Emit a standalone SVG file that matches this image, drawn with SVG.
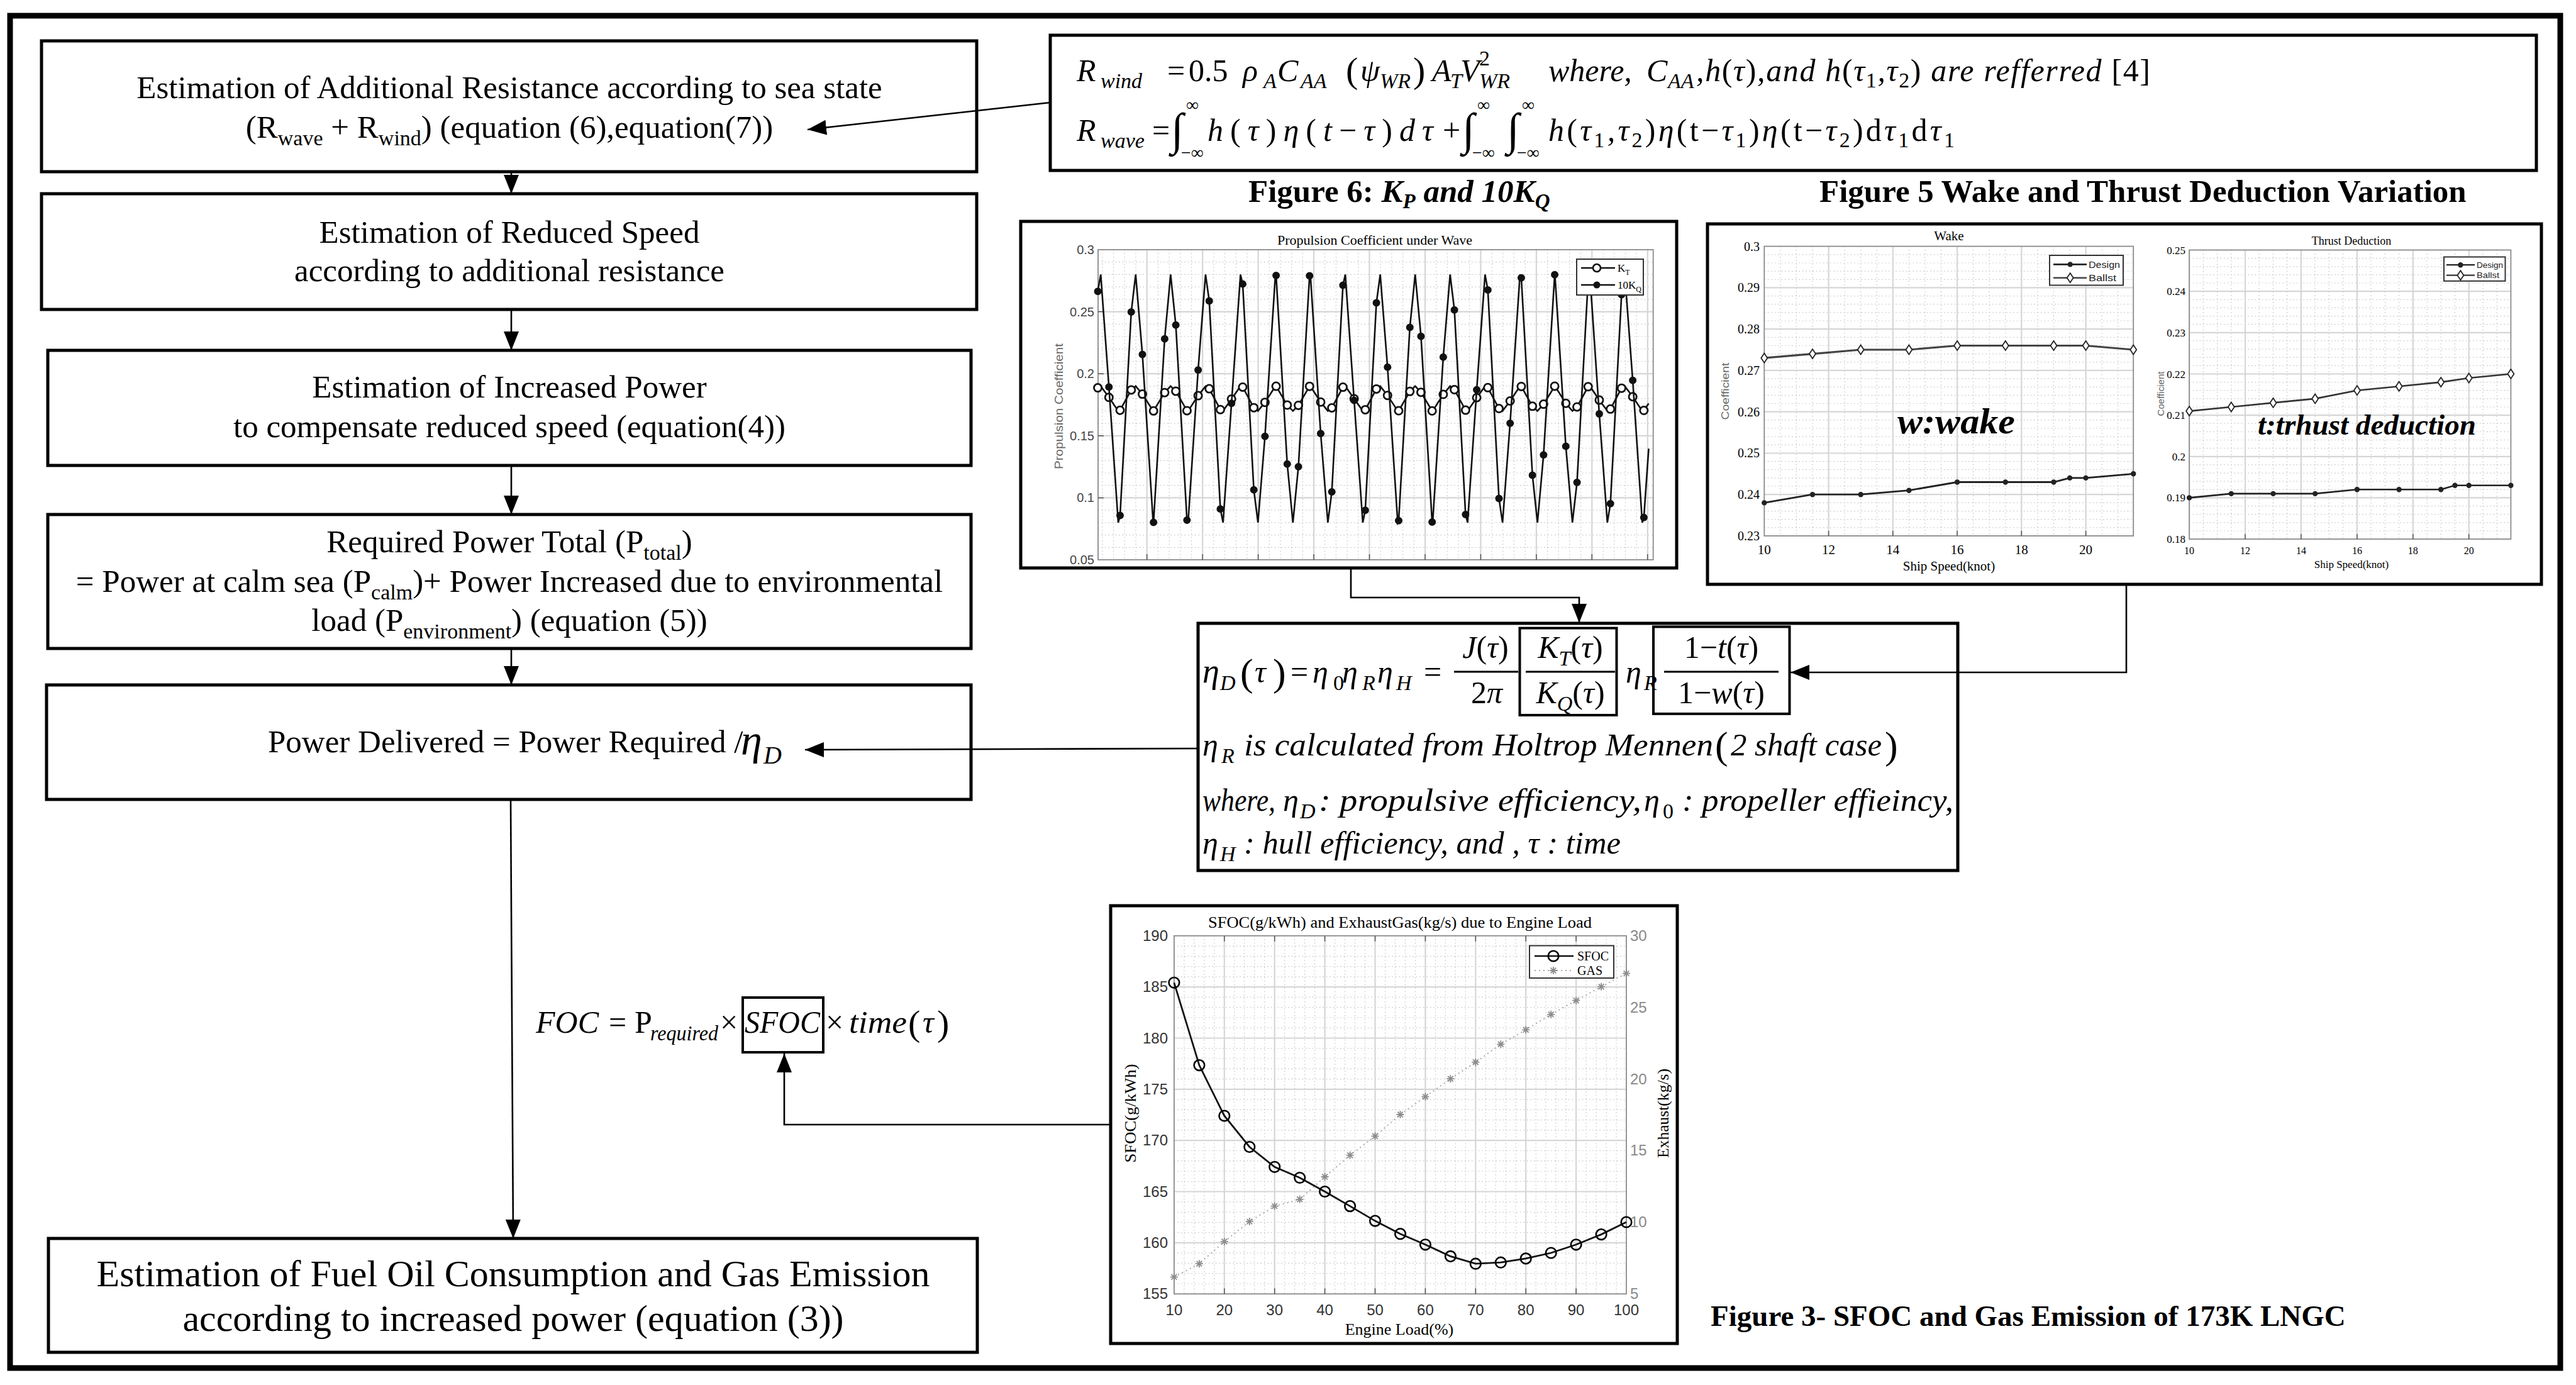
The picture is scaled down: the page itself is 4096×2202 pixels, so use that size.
<svg xmlns="http://www.w3.org/2000/svg" width="4096" height="2202" viewBox="0 0 4096 2202">
<defs>
<style>
.s{font-family:"Liberation Serif","Times New Roman",serif;fill:#000}
.a{font-family:"Liberation Sans",Arial,sans-serif}
.i{font-style:italic}
.n{font-style:normal}
.b{font-weight:bold}
.bt{font-size:51px}
.sub{font-size:34px}
.box{fill:#fff;stroke:#000;stroke-width:5}
.ib{fill:none;stroke:#000;stroke-width:4}
.con{fill:none;stroke:#000;stroke-width:2.6}
.arr{marker-end:url(#ah)}
.g1{fill:none;stroke:#d6d6d6;stroke-width:2.2}
.g2{fill:none;stroke:#c2c2c2;stroke-width:1.2;stroke-dasharray:1.5 4}
.pa{fill:none;stroke:#8a8a8a;stroke-width:1.8}
.tk{fill:none;stroke:#555;stroke-width:1.5}
.m{font-size:50px}
.ms{font-size:34px}
</style>
<marker id="ah" markerUnits="userSpaceOnUse" viewBox="0 0 30 24" markerWidth="30" markerHeight="24" refX="30" refY="12" orient="auto"><path d="M0,0L30,12L0,24z" fill="#000"/></marker>
<marker id="mo" markerUnits="userSpaceOnUse" viewBox="-11 -11 22 22" markerWidth="22" markerHeight="22" refX="0" refY="0"><circle r="8.3" fill="none" stroke="#000" stroke-width="2.6"/></marker>
<marker id="mast" markerUnits="userSpaceOnUse" viewBox="-9 -9 18 18" markerWidth="18" markerHeight="18" refX="0" refY="0"><path d="M-6,0H6M0,-6V6M-4.3,-4.3L4.3,4.3M-4.3,4.3L4.3,-4.3" stroke="#8c8c8c" stroke-width="1.8"/></marker>
<marker id="mdot" markerUnits="userSpaceOnUse" viewBox="-6 -6 12 12" markerWidth="12" markerHeight="12" refX="0" refY="0"><circle r="4.2" fill="#222"/></marker>
<marker id="mdia" markerUnits="userSpaceOnUse" viewBox="-8 -9 16 18" markerWidth="16" markerHeight="18" refX="0" refY="0"><path d="M0,-7.5L5,0L0,7.5L-5,0Z" fill="#fff" stroke="#222" stroke-width="1.8"/></marker>
<path id="kqline" vector-effect="non-scaling-stroke" fill="none" d="M213 266.4L219.5 280L237.7 189.3L258.3 80L262.4 85.7L287.2 249.8L297 280L311.9 215.6L335.8 80L336.6 80.2L361.3 228.1L374.5 280L386 239.3L410.8 82L413.3 80L435.5 203L452 280L460.2 258.7L484.9 91L490.8 80L509.6 176.1L529.5 280L534.4 272.3L559.1 106.4L568.3 80L583.8 149.5L607 280L608.5 279.2L633.2 127.2L645.8 80L658 125.1L682.7 278.9L684.5 280L707.4 151.8L723.3 80L732.1 104.8L756.8 271.4L762 280L781.6 178.5L800.8 80L806.3 89.9L831 257.2L839.5 280L855.7 205.3L878.3 80L880.4 81.6L905.2 237.4L917 280L929.9 230.2L954.6 80.4L955.8 80L979.3 213.4L994.5 280L1004 251.5L1028.8 86.5L1033.3 80L1053.5 187L1072 280L1078.2 267.6L1102.9 99.5L1110.8 80L1127.6 160.1L1149.5 280L1152.4 277.3L1177.1 118.2L1188.3 80L1201.8 134.6L1226.5 279.9L1227 280L1251.2 141.5L1265.8 80L1276 112.4L1300.7 275.3L1304.5 280L1325.4 167.6L1343.3 80L1350.1 95.2L1374.8 263.7L1382 280L1399.6 194.6L1420.8 80L1424.3 84.1L1435 139.6"/>
<path id="kqpts" vector-effect="non-scaling-stroke" fill="none" stroke-linecap="round" d="M213 266.4h.01M237.7 189.3h.01M262.4 85.7h.01M287.2 249.8h.01M311.9 215.6h.01M336.6 80.2h.01M361.3 228.1h.01M386 239.3h.01M410.8 82h.01M435.5 203h.01M460.2 258.7h.01M484.9 91h.01M509.6 176.1h.01M534.4 272.3h.01M559.1 106.4h.01M583.8 149.5h.01M608.5 279.2h.01M633.2 127.2h.01M658 125.1h.01M682.7 278.9h.01M707.4 151.8h.01M732.1 104.8h.01M756.8 271.4h.01M781.6 178.5h.01M806.3 89.9h.01M831 257.2h.01M855.7 205.3h.01M880.4 81.6h.01M905.2 237.4h.01M929.9 230.2h.01M954.6 80.4h.01M979.3 213.4h.01M1004 251.5h.01M1028.8 86.5h.01M1053.5 187h.01M1078.2 267.6h.01M1102.9 99.5h.01M1127.6 160.1h.01M1152.4 277.3h.01M1177.1 118.2h.01M1201.8 134.6h.01M1226.5 279.9h.01M1251.2 141.5h.01M1276 112.4h.01M1300.7 275.3h.01M1325.4 167.6h.01M1350.1 95.2h.01M1374.8 263.7h.01M1399.6 194.6h.01M1424.3 84.1h.01"/>
</defs>
<rect x="0" y="0" width="4096" height="2202" fill="#fff"/>
<rect id="outer-frame" x="16" y="25" width="4055" height="2150" fill="none" stroke="#000" stroke-width="9"/>

<!-- Flowchart nodes -->
<g id="n1">
<rect class="box" x="66" y="65" width="1487" height="208"/>
<text class="s bt" x="810" y="156" text-anchor="middle">Estimation of Additional Resistance according to sea state</text>
<text class="s bt" x="810" y="219" text-anchor="middle">(R<tspan class="sub" dy="12">wave</tspan><tspan dy="-12"> + R</tspan><tspan class="sub" dy="12">wind</tspan><tspan dy="-12">) (equation (6),equation(7))</tspan></text>
</g>
<g id="n2">
<rect class="box" x="66" y="308" width="1487" height="184"/>
<text class="s bt" x="810" y="386" text-anchor="middle">Estimation of Reduced Speed</text>
<text class="s bt" x="810" y="447" text-anchor="middle">according to additional resistance</text>
</g>
<g id="n3">
<rect class="box" x="76" y="557" width="1468" height="183"/>
<text class="s bt" x="810" y="632" text-anchor="middle">Estimation of Increased Power</text>
<text class="s bt" x="810" y="695" text-anchor="middle">to compensate reduced speed (equation(4))</text>
</g>
<g id="n4">
<rect class="box" x="76" y="818" width="1468" height="213"/>
<text class="s bt" x="810" y="878" text-anchor="middle">Required Power Total (P<tspan class="sub" dy="12">total</tspan><tspan dy="-12">)</tspan></text>
<text class="s bt" x="810" y="941" text-anchor="middle">= Power at calm sea (P<tspan class="sub" dy="12">calm</tspan><tspan dy="-12">)+ Power Increased due to environmental</tspan></text>
<text class="s bt" x="810" y="1003" text-anchor="middle">load (P<tspan class="sub" dy="12">environment</tspan><tspan dy="-12">) (equation (5))</tspan></text>
</g>
<g id="n5">
<rect class="box" x="74" y="1089" width="1470" height="182"/>
<text class="s bt" x="426" y="1196">Power Delivered = Power Required /</text>
<text class="s i" x="1178" y="1200" font-size="68">η</text>
<text class="s i" x="1214" y="1214" font-size="40">D</text>
</g>
<g id="n6">
<rect class="box" x="77" y="1969" width="1477" height="181"/>
<text class="s" x="816" y="2045" font-size="60" text-anchor="middle">Estimation of Fuel Oil Consumption and Gas Emission</text>
<text class="s" x="816" y="2116" font-size="60" text-anchor="middle">according to increased power (equation (3))</text>
</g>

<!-- Wind / wave resistance equations -->
<g id="eq-resistance">
<rect class="box" x="1670" y="56" width="2363" height="215"/>
<g class="s i m">
<text x="1712" y="129">R</text>
<text class="ms" x="1750" y="140">wind</text>
<text class="n" x="1856" y="129">=</text>
<text class="n" x="1890" y="129">0.5</text>
<text x="1976" y="129">ρ</text>
<text class="ms" x="2009" y="140">A</text>
<text x="2031" y="129">C</text>
<text class="ms" x="2068" y="140">AA</text>
<text class="n" x="2140" y="131" font-size="58">(</text>
<text x="2163" y="129">ψ</text>
<text class="ms" x="2194" y="140">WR</text>
<text class="n" x="2247" y="131" font-size="58">)</text>
<text x="2277" y="129">A</text>
<text class="ms" x="2306" y="140">T</text>
<text x="2322" y="129">V</text>
<text class="ms n" x="2352" y="104">2</text>
<text class="ms" x="2352" y="140">WR</text>
<text x="2462" y="129">where,</text>
<text x="2618" y="129">C</text>
<text class="ms" x="2652" y="140">AA</text>
<text x="2697" y="129" textLength="722" lengthAdjust="spacing">,h<tspan class="n">(</tspan>τ<tspan class="n">)</tspan>,and h<tspan class="n">(</tspan>τ<tspan class="ms n" dy="10">1</tspan><tspan dy="-10">,τ</tspan><tspan class="ms n" dy="10">2</tspan><tspan class="n" dy="-10">)</tspan> are refferred <tspan class="n">[4]</tspan></text>

<text x="1712" y="224">R</text>
<text class="ms" x="1750" y="235">wave</text>
<text class="n" x="1832" y="224">=</text>
<text class="n" x="1862" y="230" font-size="72">∫</text>
<text class="n" x="1886" y="176" font-size="28">∞</text>
<text class="n" x="1878" y="252" font-size="28">−∞</text>
<text x="1920" y="224" textLength="359" lengthAdjust="spacing">h<tspan class="n">(</tspan>τ<tspan class="n">)</tspan>η<tspan class="n">(</tspan>t<tspan class="n">−</tspan>τ<tspan class="n">)</tspan>dτ</text>
<text class="n" x="2294" y="224">+</text>
<text class="n" x="2325" y="230" font-size="72">∫</text>
<text class="n" x="2349" y="176" font-size="28">∞</text>
<text class="n" x="2341" y="252" font-size="28">−∞</text>
<text class="n" x="2396" y="230" font-size="72">∫</text>
<text class="n" x="2420" y="176" font-size="28">∞</text>
<text class="n" x="2412" y="252" font-size="28">−∞</text>
<text x="2462" y="224" textLength="646" lengthAdjust="spacing">h<tspan class="n">(</tspan>τ<tspan class="ms n" dy="10">1</tspan><tspan dy="-10">,τ</tspan><tspan class="ms n" dy="10">2</tspan><tspan class="n" dy="-10">)</tspan>η<tspan class="n">(t−</tspan>τ<tspan class="ms n" dy="10">1</tspan><tspan class="n" dy="-10">)</tspan>η<tspan class="n">(t−</tspan>τ<tspan class="ms n" dy="10">2</tspan><tspan class="n" dy="-10">)d</tspan>τ<tspan class="ms n" dy="10">1</tspan><tspan class="n" dy="-10">d</tspan>τ<tspan class="ms n" dy="10">1</tspan></text>
</g>
</g>

<!-- Captions -->
<g id="captions" class="s b">
<text x="1985" y="321" font-size="51">Figure 6: <tspan class="i">K</tspan><tspan class="i" font-size="33" dy="10">P</tspan><tspan class="i" dy="-10"> and 10K</tspan><tspan class="i" font-size="33" dy="10">Q</tspan></text>
<text x="2893" y="321" font-size="51">Figure 5 Wake and Thrust Deduction Variation</text>
<text x="2720" y="2108" font-size="47">Figure 3- SFOC and Gas Emission of 173K LNGC</text>
</g>

<!-- Figure 6 chart -->
<g id="fig6">
<rect x="1623" y="352" width="1043" height="551" fill="#fff" stroke="#000" stroke-width="5"/>
<text class="s" x="2186" y="389" font-size="22" text-anchor="middle" fill="#222" textLength="310" lengthAdjust="spacingAndGlyphs">Propulsion Coefficient under Wave</text>
<path class="g2" d="M1746,870.3H2628.7M1746,850.6H2628.7M1746,830.8H2628.7M1746,811.1H2628.7M1746,771.7H2628.7M1746,752H2628.7M1746,732.2H2628.7M1746,712.5H2628.7M1746,673.1H2628.7M1746,653.4H2628.7M1746,633.6H2628.7M1746,613.9H2628.7M1746,574.5H2628.7M1746,554.8H2628.7M1746,535H2628.7M1746,515.3H2628.7M1746,475.9H2628.7M1746,456.2H2628.7M1746,436.4H2628.7M1746,416.7H2628.7"/>
<path class="g2" d="M1752.9,397V890M1770.6,397V890M1788.3,397V890M1806,397V890M1841.4,397V890M1859.1,397V890M1876.8,397V890M1894.5,397V890M1929.8,397V890M1947.5,397V890M1965.2,397V890M1982.9,397V890M2018.3,397V890M2036,397V890M2053.7,397V890M2071.4,397V890M2106.7,397V890M2124.4,397V890M2142.1,397V890M2159.8,397V890M2195.2,397V890M2212.9,397V890M2230.6,397V890M2248.3,397V890M2283.6,397V890M2301.3,397V890M2319,397V890M2336.7,397V890M2372.1,397V890M2389.8,397V890M2407.5,397V890M2425.2,397V890M2460.5,397V890M2478.2,397V890M2495.9,397V890M2513.6,397V890M2549,397V890M2566.7,397V890M2584.4,397V890M2602.1,397V890"/>
<path class="g1" d="M1746,791.4H2628.7M1746,692.8H2628.7M1746,594.2H2628.7M1746,495.6H2628.7M1823.7,397V890M1912.2,397V890M2000.6,397V890M2089.1,397V890M2177.5,397V890M2266,397V890M2354.4,397V890M2442.9,397V890M2531.3,397V890M2619.8,397V890"/>
<rect class="pa" x="1746" y="397" width="882.7" height="493"/>
<path class="tk" d="M1823.7,890v-9M1912.2,890v-9M2000.6,890v-9M2089.1,890v-9M2177.5,890v-9M2266,890v-9M2354.4,890v-9M2442.9,890v-9M2531.3,890v-9M2619.8,890v-9M1746,791.4h9M1746,692.8h9M1746,594.2h9M1746,495.6h9"/>
<g class="a" font-size="20" fill="#444" text-anchor="end">
<text x="1740" y="404">0.3</text>
<text x="1740" y="503">0.25</text>
<text x="1740" y="601">0.2</text>
<text x="1740" y="700">0.15</text>
<text x="1740" y="798">0.1</text>
<text x="1740" y="897">0.05</text>
</g>
<text class="a" transform="translate(1690,646) rotate(-90)" font-size="19" fill="#666" text-anchor="middle" textLength="200" lengthAdjust="spacingAndGlyphs">Propulsion Coefficient</text>
<use href="#kqline" transform="matrix(0.7168 0 0 -0.1972 1592.9 669.14)" stroke="#111" stroke-width="2.6"/>
<use href="#kqpts" transform="matrix(0.7168 0 0 -0.1972 1592.9 669.14)" stroke="#111" stroke-width="15"/>
<use href="#kqpts" transform="matrix(0.7168 0 0 -0.1972 1592.9 669.14)" stroke="#fff" stroke-width="9.5"/>
<use href="#kqline" transform="matrix(0.7168 0 0 -1.972 1592.9 988.6)" stroke="#111" stroke-width="2.6"/>
<use href="#kqpts" transform="matrix(0.7168 0 0 -1.972 1592.9 988.6)" stroke="#111" stroke-width="12"/>
<rect x="2507" y="412" width="106" height="57" fill="#fff" stroke="#333" stroke-width="2"/>
<path d="M2514,426H2568M2514,453H2568" stroke="#111" stroke-width="2.6"/>
<circle cx="2539" cy="426" r="6" fill="#fff" stroke="#111" stroke-width="2.6"/>
<circle cx="2539" cy="453" r="5.5" fill="#111"/>
<text class="s" x="2572" y="432" font-size="17">K<tspan font-size="12" dy="5">T</tspan></text>
<text class="s" x="2572" y="459" font-size="17">10K<tspan font-size="12" dy="5">Q</tspan></text>
</g>

<!-- Figure 5 charts -->
<g id="fig5">
<rect x="2715" y="356" width="1326" height="573" fill="#fff" stroke="#000" stroke-width="5"/>
<text class="s" x="3099" y="382" font-size="21" text-anchor="middle" fill="#222">Wake</text>
<path class="g2" d="M2805.3,838.8H3392.2M2805.3,825.7H3392.2M2805.3,812.6H3392.2M2805.3,799.4H3392.2M2805.3,773H3392.2M2805.3,759.9H3392.2M2805.3,746.7H3392.2M2805.3,733.6H3392.2M2805.3,707.3H3392.2M2805.3,694.2H3392.2M2805.3,681H3392.2M2805.3,667.9H3392.2M2805.3,641.5H3392.2M2805.3,628.4H3392.2M2805.3,615.2H3392.2M2805.3,602.1H3392.2M2805.3,575.8H3392.2M2805.3,562.7H3392.2M2805.3,549.5H3392.2M2805.3,536.4H3392.2M2805.3,510H3392.2M2805.3,496.9H3392.2M2805.3,483.7H3392.2M2805.3,470.6H3392.2M2805.3,444.3H3392.2M2805.3,431.2H3392.2M2805.3,418H3392.2M2805.3,404.9H3392.2M2830.9,391.6V852M2856.4,391.6V852M2882,391.6V852M2933.2,391.6V852M2958.7,391.6V852M2984.3,391.6V852M3035.4,391.6V852M3061,391.6V852M3086.5,391.6V852M3137.7,391.6V852M3163.2,391.6V852M3188.8,391.6V852M3239.9,391.6V852M3265.5,391.6V852M3291,391.6V852M3342.2,391.6V852M3367.7,391.6V852"/>
<path class="g1" d="M2805.3,786.2H3392.2M2805.3,720.5H3392.2M2805.3,654.7H3392.2M2805.3,588.9H3392.2M2805.3,523.2H3392.2M2805.3,457.4H3392.2M2907.6,391.6V852M3009.8,391.6V852M3112.1,391.6V852M3214.3,391.6V852M3316.6,391.6V852"/>
<rect class="pa" x="2805.3" y="391.6" width="586.9" height="460.4"/>
<path class="tk" d="M2907.6,852v-8M3009.8,852v-8M3112.1,852v-8M3214.3,852v-8M3316.6,852v-8"/>
<g class="s" font-size="20" fill="#333" text-anchor="end">
<text x="2798" y="399">0.3</text>
<text x="2798" y="464">0.29</text>
<text x="2798" y="530">0.28</text>
<text x="2798" y="596">0.27</text>
<text x="2798" y="662">0.26</text>
<text x="2798" y="727">0.25</text>
<text x="2798" y="793">0.24</text>
<text x="2798" y="859">0.23</text>
</g>
<g class="s" font-size="21" fill="#333" text-anchor="middle">
<text x="2805.3" y="881">10</text>
<text x="2907.6" y="881">12</text>
<text x="3009.8" y="881">14</text>
<text x="3112.1" y="881">16</text>
<text x="3214.3" y="881">18</text>
<text x="3316.6" y="881">20</text>
<text x="3099" y="907">Ship Speed(knot)</text>
</g>
<text class="a" transform="translate(2749,622) rotate(-90)" font-size="17" fill="#666" text-anchor="middle" textLength="91" lengthAdjust="spacingAndGlyphs">Coefficient</text>
<polyline points="2805.3,569.2 2882,562.6 2958.7,556 3035.4,556 3112.1,549.5 3188.8,549.5 3265.5,549.5 3316.6,549.5 3392.2,556" fill="none" stroke="#444" stroke-width="3.2" marker-start="url(#mdia)" marker-mid="url(#mdia)" marker-end="url(#mdia)"/>
<polyline points="2805.3,799.4 2882,786.2 2958.7,786.2 3035.4,779.7 3112.1,766.5 3188.8,766.5 3265.5,766.5 3291.1,759.9 3316.6,759.9 3392.2,753.3" fill="none" stroke="#222" stroke-width="2.8" marker-start="url(#mdot)" marker-mid="url(#mdot)" marker-end="url(#mdot)"/>
<rect x="3259" y="406" width="117" height="47.5" fill="#fff" stroke="#333" stroke-width="2"/>
<polyline points="3265,420.4 3291.7,420.4 3318,420.4" fill="none" stroke="#222" stroke-width="2.6" marker-mid="url(#mdot)"/>
<polyline points="3265,441.7 3291.7,441.7 3318,441.7" fill="none" stroke="#444" stroke-width="2.6" marker-mid="url(#mdia)"/>
<text class="a" x="3321" y="426" font-size="15" fill="#222" textLength="50" lengthAdjust="spacingAndGlyphs">Design</text>
<text class="a" x="3321" y="447" font-size="15" fill="#222" textLength="44" lengthAdjust="spacingAndGlyphs">Ballst</text>
<text class="s b i" x="3017" y="689" font-size="56" textLength="187" lengthAdjust="spacingAndGlyphs">w:wake</text>

<text class="s" x="3739" y="389" font-size="18" text-anchor="middle" fill="#222">Thrust Deduction</text>
<path class="g2" d="M3481.1,844H3992.4M3481.1,830.8H3992.4M3481.1,817.7H3992.4M3481.1,804.6H3992.4M3481.1,778.3H3992.4M3481.1,765.2H3992.4M3481.1,752.1H3992.4M3481.1,738.9H3992.4M3481.1,712.7H3992.4M3481.1,699.5H3992.4M3481.1,686.4H3992.4M3481.1,673.2H3992.4M3481.1,647H3992.4M3481.1,633.9H3992.4M3481.1,620.7H3992.4M3481.1,607.6H3992.4M3481.1,581.4H3992.4M3481.1,568.2H3992.4M3481.1,555.1H3992.4M3481.1,541.9H3992.4M3481.1,515.7H3992.4M3481.1,502.6H3992.4M3481.1,489.4H3992.4M3481.1,476.3H3992.4M3481.1,450H3992.4M3481.1,436.9H3992.4M3481.1,423.8H3992.4M3481.1,410.6H3992.4M3503.3,397.5V857.1M3525.6,397.5V857.1M3547.8,397.5V857.1M3592.2,397.5V857.1M3614.5,397.5V857.1M3636.7,397.5V857.1M3681.1,397.5V857.1M3703.4,397.5V857.1M3725.6,397.5V857.1M3770.1,397.5V857.1M3792.3,397.5V857.1M3814.6,397.5V857.1M3859,397.5V857.1M3881.2,397.5V857.1M3903.5,397.5V857.1M3947.9,397.5V857.1M3970.2,397.5V857.1"/>
<path class="g1" d="M3481.1,791.4H3992.4M3481.1,725.8H3992.4M3481.1,660.1H3992.4M3481.1,594.5H3992.4M3481.1,528.8H3992.4M3481.1,463.1H3992.4M3570,397.5V857.1M3658.9,397.5V857.1M3747.9,397.5V857.1M3836.8,397.5V857.1M3925.7,397.5V857.1"/>
<rect class="pa" x="3481.1" y="397.5" width="511.3" height="459.6"/>
<path class="tk" d="M3570,857.1v-8M3658.9,857.1v-8M3747.9,857.1v-8M3836.8,857.1v-8M3925.7,857.1v-8"/>
<g class="s" font-size="17" fill="#333" text-anchor="end">
<text x="3475" y="404">0.25</text>
<text x="3475" y="469">0.24</text>
<text x="3475" y="535">0.23</text>
<text x="3475" y="601">0.22</text>
<text x="3475" y="666">0.21</text>
<text x="3475" y="732">0.2</text>
<text x="3475" y="797">0.19</text>
<text x="3475" y="863">0.18</text>
</g>
<g class="s" font-size="16" fill="#333" text-anchor="middle">
<text x="3481.1" y="881">10</text>
<text x="3570" y="881">12</text>
<text x="3658.9" y="881">14</text>
<text x="3747.9" y="881">16</text>
<text x="3836.8" y="881">18</text>
<text x="3925.7" y="881">20</text>
<text x="3739" y="903" font-size="17">Ship Speed(knot)</text>
</g>
<text class="a" transform="translate(3441,626) rotate(-90)" font-size="15" fill="#666" text-anchor="middle" textLength="71" lengthAdjust="spacingAndGlyphs">Coefficient</text>
<polyline points="3481.1,653.6 3547.8,647 3614.5,640.4 3681.2,633.9 3747.9,620.7 3814.6,614.2 3881.2,607.6 3925.7,601 3992.4,594.5" fill="none" stroke="#333" stroke-width="2.6" marker-start="url(#mdia)" marker-mid="url(#mdia)" marker-end="url(#mdia)"/>
<polyline points="3481.1,791.4 3547.8,784.9 3614.5,784.9 3681.2,784.9 3747.9,778.3 3814.6,778.3 3881.2,778.3 3903.5,771.7 3925.7,771.7 3992.4,771.7" fill="none" stroke="#222" stroke-width="2.6" marker-start="url(#mdot)" marker-mid="url(#mdot)" marker-end="url(#mdot)"/>
<rect x="3886" y="408.5" width="97.5" height="38.3" fill="#fff" stroke="#333" stroke-width="2"/>
<polyline points="3890,421.2 3912.4,421.2 3935,421.2" fill="none" stroke="#222" stroke-width="2.2" marker-mid="url(#mdot)"/>
<polyline points="3890,437.7 3912.4,437.7 3935,437.7" fill="none" stroke="#333" stroke-width="2.2" marker-mid="url(#mdia)"/>
<text class="a" x="3938" y="426" font-size="13" fill="#222" textLength="42" lengthAdjust="spacingAndGlyphs">Design</text>
<text class="a" x="3938" y="442" font-size="13" fill="#222" textLength="36" lengthAdjust="spacingAndGlyphs">Ballst</text>
<text class="s b i" x="3590" y="691" font-size="46" textLength="347" lengthAdjust="spacingAndGlyphs">t:trhust deduction</text>
</g>

<!-- Propulsive efficiency node -->
<g id="eta">
<rect class="box" x="1905" y="991" width="1208" height="393"/>
<g class="s i m">
<text x="1912" y="1085" font-size="54">η</text>
<text class="ms" x="1940" y="1097">D</text>
<text class="n" x="1972" y="1090" font-size="62">(</text>
<text x="1995" y="1085">τ</text>
<text class="n" x="2024" y="1090" font-size="62">)</text>
<text class="n" x="2052" y="1085">=</text>
<text x="2087" y="1085">η</text>
<text class="ms n" x="2120" y="1097">0</text>
<text x="2134" y="1085">η</text>
<text class="ms" x="2166" y="1097">R</text>
<text x="2190" y="1085">η</text>
<text class="ms" x="2220" y="1097">H</text>
<text class="n" x="2264" y="1085">=</text>
<text x="2362" y="1046" text-anchor="middle">J<tspan class="n">(</tspan>τ<tspan class="n">)</tspan></text>
<text x="2364" y="1118" text-anchor="middle"><tspan class="n">2</tspan>π</text>
<text x="2497" y="1046" text-anchor="middle">K<tspan class="ms" dy="12">T</tspan><tspan class="n" dy="-12">(</tspan>τ<tspan class="n">)</tspan></text>
<text x="2497" y="1118" text-anchor="middle">K<tspan class="ms" dy="12">Q</tspan><tspan class="n" dy="-12">(</tspan>τ<tspan class="n">)</tspan></text>
<text x="2585" y="1085">η</text>
<text class="ms" x="2614" y="1097">R</text>
<text x="2737" y="1046" text-anchor="middle"><tspan class="n">1−</tspan>t<tspan class="n">(</tspan>τ<tspan class="n">)</tspan></text>
<text x="2737" y="1118" text-anchor="middle"><tspan class="n">1−</tspan>w<tspan class="n">(</tspan>τ<tspan class="n">)</tspan></text>

<text x="1912" y="1201">η</text>
<text class="ms" x="1942" y="1213">R</text>
<text x="1978" y="1201" textLength="746" lengthAdjust="spacingAndGlyphs">is calculated  from Holtrop Mennen</text>
<text class="n" x="2727" y="1206" font-size="62">(</text>
<text x="2752" y="1201" textLength="240" lengthAdjust="spacingAndGlyphs">2 shaft case</text>
<text class="n" x="2997" y="1206" font-size="62">)</text>

<text x="1912" y="1289" textLength="116" lengthAdjust="spacingAndGlyphs">where,</text>
<text x="2040" y="1289">η</text>
<text class="ms" x="2067" y="1301">D</text>
<text x="2097" y="1289" textLength="513" lengthAdjust="spacingAndGlyphs">: propulsive efficiency,</text>
<text x="2614" y="1289">η</text>
<text class="ms n" x="2644" y="1301">0</text>
<text x="2675" y="1289" textLength="431" lengthAdjust="spacingAndGlyphs">: propeller effieincy,</text>

<text x="1912" y="1357">η</text>
<text class="ms" x="1940" y="1369">H</text>
<text x="1978" y="1357" textLength="599" lengthAdjust="spacingAndGlyphs">: hull efficiency, and , τ : time</text>
</g>
<path d="M2312,1068H2414M2426,1068H2568M2646,1068H2828" stroke="#000" stroke-width="3"/>
<rect class="ib" x="2416.5" y="998.6" width="154" height="138.4"/>
<rect class="ib" x="2629" y="996.5" width="216.5" height="138.4"/>
</g>

<!-- FOC formula node -->
<g id="foc">
<g class="s i m">
<text x="852" y="1642">FOC</text>
<text class="n" x="968" y="1642">=</text>
<text class="n" x="1009" y="1642">P</text>
<text class="ms" x="1034" y="1654" textLength="108" lengthAdjust="spacingAndGlyphs">required</text>
<text class="n" x="1145" y="1642">×</text>
<text x="1184" y="1642" textLength="120" lengthAdjust="spacingAndGlyphs">SFOC</text>
<text class="n" x="1313" y="1642">×</text>
<text x="1350" y="1642" textLength="92" lengthAdjust="spacingAndGlyphs">time</text>
<text class="n" x="1444" y="1646" font-size="58">(</text>
<text x="1467" y="1642">τ</text>
<text class="n" x="1490" y="1646" font-size="58">)</text>
</g>
<rect class="ib" x="1181" y="1586" width="128" height="87"/>
</g>

<!-- SFOC chart -->
<g id="sfoc">
<rect x="1766" y="1440" width="901" height="696" fill="#fff" stroke="#000" stroke-width="5"/>
<text class="s" x="2226" y="1475" font-size="26" text-anchor="middle" fill="#222" textLength="610" lengthAdjust="spacingAndGlyphs">SFOC(g/kWh) and ExhaustGas(kg/s) due to Engine Load</text>
<path class="g2" d="M1866.9,1504.1H2586M1866.9,1520.3H2586M1866.9,1536.6H2586M1866.9,1552.9H2586M1866.9,1585.4H2586M1866.9,1601.7H2586M1866.9,1618H2586M1866.9,1634.2H2586M1866.9,1666.8H2586M1866.9,1683H2586M1866.9,1699.3H2586M1866.9,1715.6H2586M1866.9,1748.1H2586M1866.9,1764.4H2586M1866.9,1780.7H2586M1866.9,1796.9H2586M1866.9,1829.5H2586M1866.9,1845.7H2586M1866.9,1862H2586M1866.9,1878.3H2586M1866.9,1910.8H2586M1866.9,1927.1H2586M1866.9,1943.4H2586M1866.9,1959.6H2586M1866.9,1992.2H2586M1866.9,2008.4H2586M1866.9,2024.7H2586M1866.9,2041H2586M1882.9,1487.8V2057.2M1898.9,1487.8V2057.2M1914.8,1487.8V2057.2M1930.8,1487.8V2057.2M1962.8,1487.8V2057.2M1978.7,1487.8V2057.2M1994.7,1487.8V2057.2M2010.7,1487.8V2057.2M2042.7,1487.8V2057.2M2058.6,1487.8V2057.2M2074.6,1487.8V2057.2M2090.6,1487.8V2057.2M2122.6,1487.8V2057.2M2138.5,1487.8V2057.2M2154.5,1487.8V2057.2M2170.5,1487.8V2057.2M2202.5,1487.8V2057.2M2218.4,1487.8V2057.2M2234.4,1487.8V2057.2M2250.4,1487.8V2057.2M2282.4,1487.8V2057.2M2298.3,1487.8V2057.2M2314.3,1487.8V2057.2M2330.3,1487.8V2057.2M2362.3,1487.8V2057.2M2378.2,1487.8V2057.2M2394.2,1487.8V2057.2M2410.2,1487.8V2057.2M2442.2,1487.8V2057.2M2458.1,1487.8V2057.2M2474.1,1487.8V2057.2M2490.1,1487.8V2057.2M2522.1,1487.8V2057.2M2538,1487.8V2057.2M2554,1487.8V2057.2M2570,1487.8V2057.2"/>
<path class="g1" d="M1866.9,1569.1H2586M1866.9,1650.5H2586M1866.9,1731.8H2586M1866.9,1813.2H2586M1866.9,1894.5H2586M1866.9,1975.9H2586M1946.8,1487.8V2057.2M2026.7,1487.8V2057.2M2106.6,1487.8V2057.2M2186.5,1487.8V2057.2M2266.4,1487.8V2057.2M2346.3,1487.8V2057.2M2426.2,1487.8V2057.2M2506.1,1487.8V2057.2"/>
<rect class="pa" x="1866.9" y="1487.8" width="719.1" height="569.4"/>
<path class="tk" d="M1946.8,2057.2v-9M2026.7,2057.2v-9M2106.6,2057.2v-9M2186.5,2057.2v-9M2266.4,2057.2v-9M2346.3,2057.2v-9M2426.2,2057.2v-9M2506.1,2057.2v-9M1946.8,1487.8v9M2026.7,1487.8v9M2106.6,1487.8v9M2186.5,1487.8v9M2266.4,1487.8v9M2346.3,1487.8v9M2426.2,1487.8v9M2506.1,1487.8v9"/>
<g class="a" font-size="24" fill="#333" text-anchor="end">
<text x="1857" y="1496">190</text>
<text x="1857" y="1577">185</text>
<text x="1857" y="1659">180</text>
<text x="1857" y="1740">175</text>
<text x="1857" y="1821">170</text>
<text x="1857" y="1903">165</text>
<text x="1857" y="1984">160</text>
<text x="1857" y="2065">155</text>
</g>
<g class="a" font-size="24" fill="#888">
<text x="2592" y="1496">30</text>
<text x="2592" y="1610">25</text>
<text x="2592" y="1724">20</text>
<text x="2592" y="1837">15</text>
<text x="2592" y="1951">10</text>
<text x="2592" y="2065">5</text>
</g>
<g class="a" font-size="24" fill="#333" text-anchor="middle">
<text x="1866.9" y="2091">10</text>
<text x="1946.8" y="2091">20</text>
<text x="2026.7" y="2091">30</text>
<text x="2106.6" y="2091">40</text>
<text x="2186.5" y="2091">50</text>
<text x="2266.4" y="2091">60</text>
<text x="2346.3" y="2091">70</text>
<text x="2426.2" y="2091">80</text>
<text x="2506.1" y="2091">90</text>
<text x="2586" y="2091">100</text>
</g>
<text class="s" x="2225" y="2122" font-size="26" fill="#333" text-anchor="middle">Engine Load(%)</text>
<text class="s" transform="translate(1806,1770) rotate(-90)" font-size="26" fill="#777" text-anchor="middle" textLength="157" lengthAdjust="spacingAndGlyphs">SFOC(g/kWh)</text>
<text class="s" transform="translate(2653,1770) rotate(-90)" font-size="25" fill="#aaa" text-anchor="middle" textLength="142" lengthAdjust="spacingAndGlyphs">Exhaust(kg/s)</text>
<polyline points="1866.9,2030.3 1906.9,2009.2 1946.8,1973.9 1986.8,1942.1 2026.7,1917.6 2066.7,1906.8 2106.6,1871 2146.6,1836.7 2186.5,1806.3 2226.5,1772 2266.4,1743.6 2306.4,1715.2 2346.3,1688.7 2386.3,1660.3 2426.2,1637.3 2466.2,1612.8 2506.1,1590.7 2546.1,1568.7 2586,1547.6" fill="none" stroke="#aaa" stroke-width="2" stroke-dasharray="2 5" marker-start="url(#mast)" marker-mid="url(#mast)" marker-end="url(#mast)"/>
<polyline points="1866.9,1562.3 1906.9,1693.6 1946.8,1774 1986.8,1823.5 2026.7,1855.3 2066.7,1872.5 2106.6,1894.5 2146.6,1917.6 2186.5,1941.1 2226.5,1961.7 2266.4,1978.8 2306.4,1997.4 2346.3,2009.2 2386.3,2007.2 2426.2,2000.9 2466.2,1992 2506.1,1978.8 2546.1,1962.6 2586,1943" fill="none" stroke="#111" stroke-width="2.8" marker-start="url(#mo)" marker-mid="url(#mo)" marker-end="url(#mo)"/>
<rect x="2432" y="1503.5" width="134" height="51.5" fill="#fff" stroke="#333" stroke-width="2"/>
<polyline points="2440,1520 2470,1520 2502,1520" fill="none" stroke="#111" stroke-width="2.6" marker-mid="url(#mo)"/>
<polyline points="2440,1543 2470,1543 2502,1543" fill="none" stroke="#aaa" stroke-width="2" stroke-dasharray="2 5" marker-mid="url(#mast)"/>
<text class="s" x="2508" y="1527" font-size="20" fill="#222">SFOC</text>
<text class="s" x="2508" y="1550" font-size="20" fill="#222">GAS</text>
</g>

<!-- Connectors -->
<g id="connectors" class="con">
<path class="arr" d="M1670,163L1284,206"/>
<path class="arr" d="M813,274V308"/>
<path class="arr" d="M813,492V557"/>
<path class="arr" d="M813,740V818"/>
<path class="arr" d="M813,1031V1089"/>
<path class="arr" d="M812,1271L816,1969"/>
<path class="arr" d="M1905,1190L1280,1192"/>
<path class="arr" d="M2148,903V950H2511V990"/>
<path class="arr" d="M3381,930V1069H2847"/>
<path class="arr" d="M1766,1788H1247V1675"/>
</g>
</svg>
